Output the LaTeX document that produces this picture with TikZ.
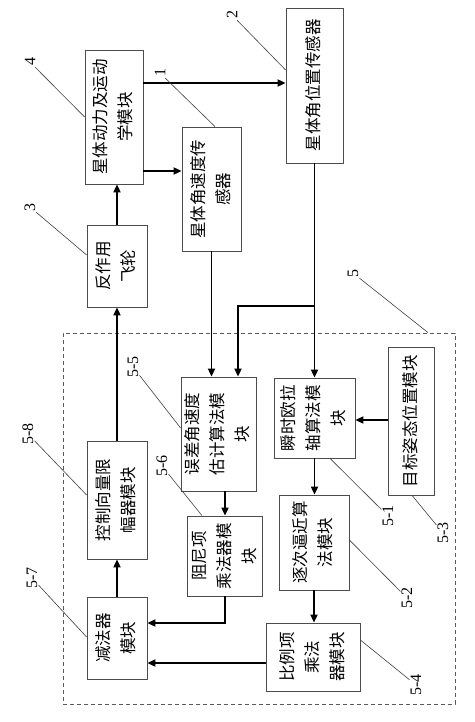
\documentclass[tikz,border=0pt]{standalone}
\usepackage{fontspec}
\usepackage{graphicx}
\setmainfont{Liberation Serif}
\newfontfamily\cjk{Noto Sans CJK SC}
\usetikzlibrary{arrows.meta}
\newcommand\rt[1]{\rotatebox{90}{\begin{tabular}{@{}c@{}}#1\end{tabular}}}
\tikzset{
  box/.style={draw=black!70, line width=0.8pt, inner sep=0pt, font=\cjk\fontsize{16.5}{25}\selectfont},
  arr/.style={line width=1.8pt, -{Triangle[length=8pt,width=7pt]}},
  lead/.style={draw=black!75, line width=0.6pt},
  lab/.style={inner sep=1pt, font=\fontsize{16}{16}\selectfont},
  dbox/.style={draw=black!65, line width=0.8pt, dash pattern=on 4pt off 3pt, inner sep=0pt}
}
\begin{document}
\begin{tikzpicture}[x=1pt,y=-1pt]
\useasboundingbox (0,0) rectangle (474,722);
% dashed frame
\node[dbox, minimum width=392pt, minimum height=371pt] (db) at (259,518.5) {};
% boxes
\node[box, minimum width=58pt, minimum height=134pt] (n4) at (114,117) {\rt{星体动力及运动\\学模块}};
\node[box, minimum width=57pt, minimum height=155pt] (n2) at (314.5,85.5) {\rt{星体角位置传感器}};
\node[box, minimum width=59pt, minimum height=124pt] (n1) at (211.5,189) {\rt{星体角速度传\\感器}};
\node[box, minimum width=60pt, minimum height=82pt] (n3) at (117,266) {\rt{反作用\\飞轮}};
\node[box, minimum width=67pt, minimum height=114pt] (n55) at (218.5,434) {\rt{误差角速度\\估计算法模\\块}};
\node[box, minimum width=81pt, minimum height=80pt] (n51) at (314.5,418) {\rt{瞬时欧拉\\轴算法模\\块}};
\node[box, minimum width=46pt, minimum height=148pt] (n53) at (411,421) {\rt{目标姿态位置模块}};
\node[box, minimum width=60pt, minimum height=118pt] (n58) at (117,500) {\rt{控制向量限\\幅器模块}};
\node[box, minimum width=70pt, minimum height=80pt] (n56) at (225,556) {\rt{阻尼项\\乘法器模\\块}};
\node[box, minimum width=70pt, minimum height=95pt] (n52) at (314,542.5) {\rt{逐次逼近算\\法模块}};
\node[box, minimum width=94pt, minimum height=68pt] (n54) at (313,657) {\rt{比例项\\乘法\\器模块}};
\node[box, minimum width=60pt, minimum height=82pt] (n57) at (117,638) {\rt{减法器\\模块}};
% arrows
\draw[arr] (n4.east |- 0,83) -- (n2.west |- 0,83);
\draw[arr] (n4.east |- 0,171) -- (n1.west |- 0,171);
\draw[arr] (n3.north) -- (n3.north |- n4.south);
\draw[arr] (n2.south) -- (n2.south |- n51.north);
\coordinate (j) at (n2.south |- 0,306);
\draw[arr] (j) -| ([xshift=19.5pt]n55.north);
\draw[arr] (n1.south) -- (n1.south |- n55.north);
\draw[arr] (n53.west |- 0,420) -- (n51.east |- 0,420);
\draw[arr] (n58.north) -- (n58.north |- n3.south);
\draw[arr] (n56.north |- n55.south) -- (n56.north);
\draw[arr] (n51.south) -- (n51.south |- n52.north);
\draw[arr] (n52.south) -- (n52.south |- n54.north);
\draw[arr] (n57.north) -- (n57.north |- n58.south);
\draw[arr] (n56.south) |- (n57.east |- 0,623);
\draw[arr] (n54.west |- 0,663) -- (n57.east |- 0,663);
% labels
\node[lab] (l4) at (30,62) {\rotatebox{90}{4}};
\node[lab] (l1) at (160,73) {\rotatebox{90}{1}};
\node[lab] (l2) at (232,15) {\rotatebox{90}{2}};
\node[lab] (l3) at (30,207) {\rotatebox{90}{3}};
\node[lab] (l5) at (353,273) {\rotatebox{90}{5}};
\node[lab] (l55) at (133,367) {\rotatebox{90}{5-5}};
\node[lab] (l58) at (28,434) {\rotatebox{90}{5-8}};
\node[lab] (l56) at (162,466) {\rotatebox{90}{5-6}};
\node[lab] (l51) at (388,516) {\rotatebox{90}{5-1}};
\node[lab] (l53) at (443,533) {\rotatebox{90}{5-3}};
\node[lab] (l52) at (407,598) {\rotatebox{90}{5-2}};
\node[lab] (l57) at (32,578) {\rotatebox{90}{5-7}};
\node[lab] (l54) at (416,685) {\rotatebox{90}{5-4}};
% leader lines
\draw[lead] (l4) -- (n4.west |- 0,117);
\draw[lead] (l1) -- (n1.north -| 215,0);
\draw[lead] (l2) -- (n2.west |- 0,70);
\draw[lead] (l3) -- (n3.west |- 0,255);
\draw[lead] (l5) -- (db.north -| 428,0);
\draw[lead] (l55) -- (n55.west |- 0,428);
\draw[lead] (l58) -- (n58.west |- 0,495);
\draw[lead] (l56) -- (n56.north -| 202,0);
\draw[lead] (l51) -- (n51.south -| 330,0);
\draw[lead] (l53) -- (n53.south -| 412,0);
\draw[lead] (l52) -- (n52.east |- 0,540);
\draw[lead] (l57) -- (n57.west |- 0,637);
\draw[lead] (l54) -- (n54.east |- 0,640);
\end{tikzpicture}
\end{document}
